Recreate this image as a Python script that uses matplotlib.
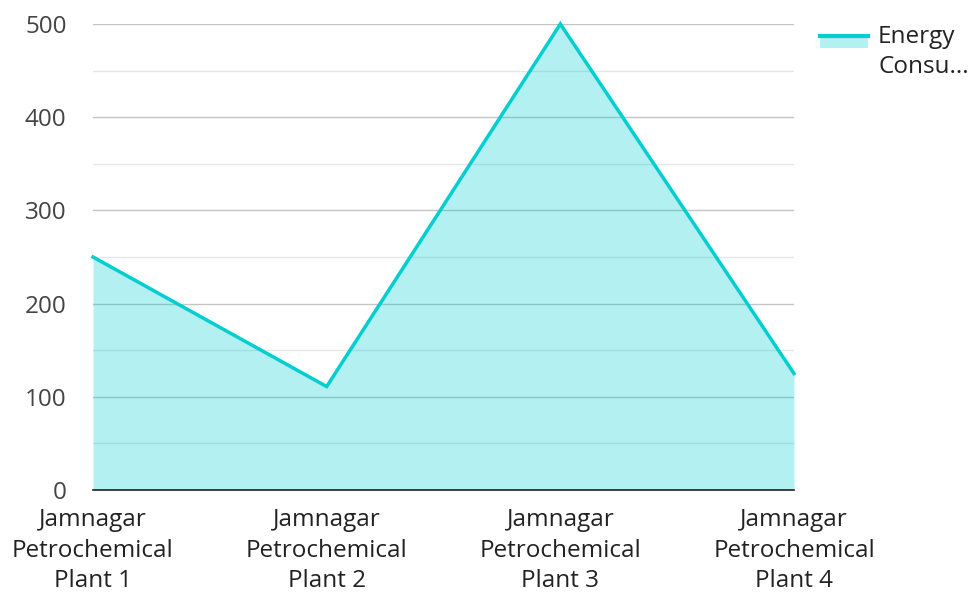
import matplotlib.pyplot as plt
import numpy as np

plants = ["Jamnagar\nPetrochemical\nPlant 1", "Jamnagar\nPetrochemical\nPlant 2",
          "Jamnagar\nPetrochemical\nPlant 3", "Jamnagar\nPetrochemical\nPlant 4"]
energy = [250, 111, 500, 125]
series_name = "Energy\nConsu..."

plt.rcParams['font.family'] = ['Open Sans', 'DejaVu Sans']
fs = 17.5

fig = plt.figure(figsize=(9.73, 5.94), dpi=100)
ax = fig.add_axes([93 / 973, 104 / 594, 701 / 973, 466 / 594])

x = np.arange(len(plants))
color = '#00CED1'
ax.fill_between(x, energy, 0, color=color, alpha=0.3, lw=0, zorder=2)
ax.plot(x, energy, color=color, lw=2.5, zorder=3, clip_on=False, solid_joinstyle='miter')

ax.set_xlim(0, len(plants) - 1)
ax.set_ylim(0, 500)
ax.set_yticks(np.arange(0, 501, 100))
ax.set_yticks(np.arange(50, 500, 100), minor=True)
ax.set_axisbelow(True)
ax.grid(axis='y', which='major', color='#c4c4c4', lw=1)
ax.grid(axis='y', which='minor', color='#e6e6e6', lw=1)

ax.set_xticks(x)
ax.set_xticklabels(plants, fontsize=fs, color='#222222', linespacing=1.36)
ax.tick_params(axis='y', which='both', length=0, pad=19, labelsize=fs, labelcolor='#444444')
ax.tick_params(axis='x', which='both', length=0, pad=13)

for s in ['top', 'right', 'left']:
    ax.spines[s].set_visible(False)
ax.spines['bottom'].set_color('#222222')
ax.spines['bottom'].set_linewidth(1.2)
ax.spines['bottom'].set_zorder(4)

# legend swatch: line over a filled patch
lx0, lx1, ly = 820 / 973, 868 / 973, 1 - 36 / 594
fig.patches.append(plt.Rectangle((lx0, ly - 12 / 594), lx1 - lx0, 12 / 594,
                                 transform=fig.transFigure, color=color, alpha=0.3, lw=0))
fig.lines.append(plt.Line2D([lx0, lx1], [ly, ly], transform=fig.transFigure, color=color, lw=3))
fig.text(878 / 973, 1 - 25 / 594, series_name, fontsize=fs, color='#222222',
         va='top', ha='left', linespacing=1.36)

fig.savefig('out.png', dpi=100, facecolor='white')
